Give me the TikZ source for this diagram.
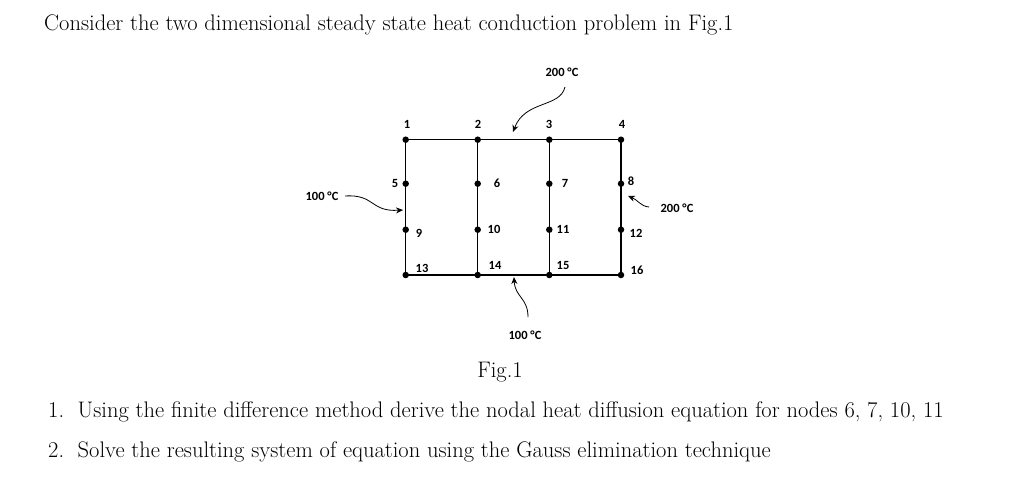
\documentclass[tikz,border=0pt]{standalone}
\usepackage{fontspec}
\newfontfamily\lab{Carlito}
\usetikzlibrary{arrows.meta}
\begin{document}
\begin{tikzpicture}[x=1pt,y=-1pt,
  dot/.style={circle,fill,inner sep=0pt,minimum size=6.5pt},
  nl/.style={font=\lab\bfseries\fontsize{12.5}{14}\selectfont,inner sep=0pt},
  txt/.style={font=\fontsize{22.5}{26}\selectfont,inner sep=0pt,anchor=west},
  grid/.style={line width=1.3pt},
  arr/.style={line width=0.8pt,-{Stealth[length=7pt,width=6pt]}}]
\useasboundingbox (0,0) rectangle (1024,477);
\node[txt] (t0) at (44,25) {Consider the two dimensional steady state heat conduction problem in Fig.1};
% nodes
\foreach \i/\x in {1/405.7,2/477.7,3/549.3,4/621}{
  \node[dot] (n\i) at (\x,139.7) {};}
\foreach \i/\x in {5/405.7,6/477.7,7/549.3,8/621}{
  \node[dot] (n\i) at (\x,183.7) {};}
\foreach \i/\x in {9/405.7,10/477.7,11/549.3,12/621}{
  \node[dot] (n\i) at (\x,229.7) {};}
\foreach \i/\x in {13/405.7,14/477.7,15/549.3,16/621}{
  \node[dot] (n\i) at (\x,275) {};}
\draw[grid] (n1.center) -- (n4.center) (n13.center) -- (n16.center)
  (n1.center) -- (n13.center) (n2.center) -- (n14.center)
  (n3.center) -- (n15.center) (n4.center) -- (n16.center);
% labels
\foreach \i/\x/\y in {1/407/124,2/478/124,3/549/124,4/622/124,5/395/183,6/497/183,7/565/183,8/631/181,9/419/233,10/494/229,11/563/229,12/636/233,13/422/268,14/495/265,15/563/265,16/637/270}
  \node[nl] (l\i) at (\x,\y) {\i};
% boundary temps
\node[nl] (tt) at (562,72) {200 °C};
\node[nl] (tl) at (322,196) {100 °C};
\node[nl] (tr) at (677,208) {200 °C};
\node[nl] (tb) at (525,335) {100 °C};
\coordinate (at) at (513,132);
\coordinate (al) at (403,210);
\coordinate (ar) at (628,196);
\coordinate (ab) at (514,277);
\draw[arr] (565,87) .. controls (560,108) and (525,100) .. (at);
\draw[arr] (345,196) .. controls (375,194) and (370,212) .. (al);
\draw[arr] (649,207) .. controls (640,206) and (638,200) .. (ar);
\draw[arr] (528,317) .. controls (528,298) and (515,297) .. (ab);
\node[txt,anchor=center] (fig) at (500,372) {Fig.1};
\node[txt] (q1) at (48,412) {1.\ \ Using the finite difference method derive the nodal heat diffusion equation for nodes 6, 7, 10, 11};
\node[txt] (q2) at (48,452) {2.\ \ Solve the resulting system of equation using the Gauss elimination technique};
\end{tikzpicture}
\end{document}
